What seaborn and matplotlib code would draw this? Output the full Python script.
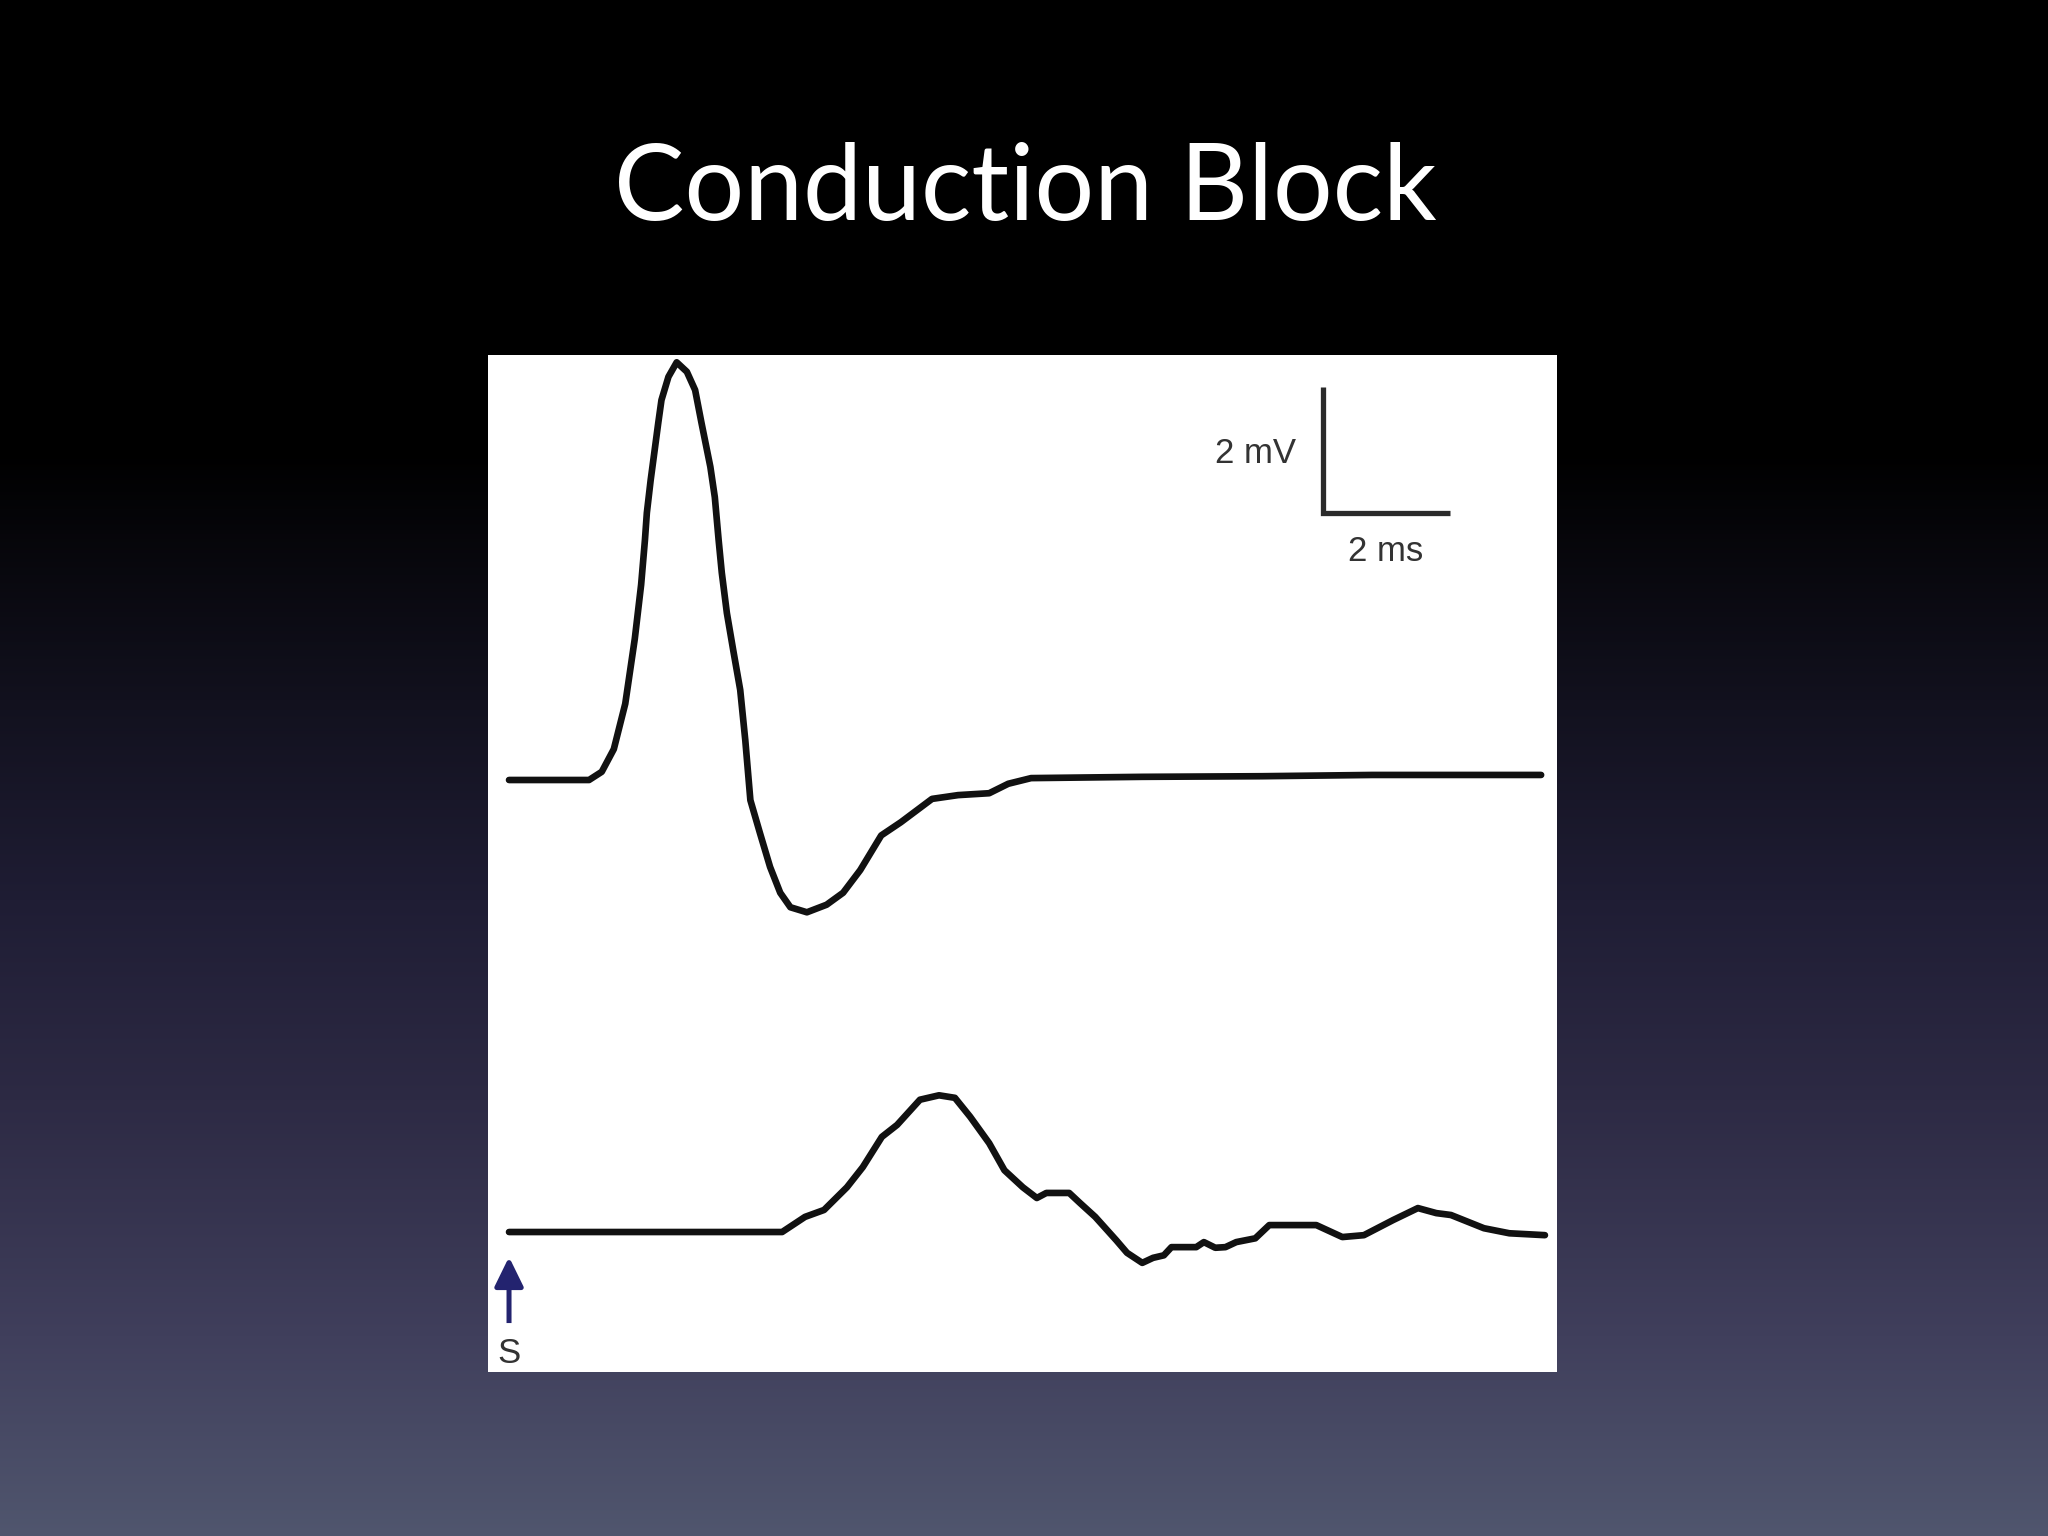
import numpy as np
import pandas as pd
import matplotlib
matplotlib.use("Agg")
import matplotlib.pyplot as plt
import seaborn as sns

# ---------------- data (time in ms from stimulus, amplitude in mV) ----------------
top_t = [0.0, 1.26, 1.46, 1.65, 1.83, 1.98, 2.08, 2.14, 2.17, 2.23, 2.30, 2.35,
         2.40, 2.51, 2.64, 2.80, 2.93, 3.03, 3.17, 3.24, 3.30, 3.35, 3.43, 3.53,
         3.64, 3.72, 3.80, 3.95, 4.11, 4.27, 4.43, 4.69, 5.00, 5.26, 5.53, 5.86,
         6.17, 6.66, 7.07, 7.56, 7.86, 8.22, 9.97, 11.86, 13.59, 16.25]
top_v = [0.0, 0.0, 0.13, 0.49, 1.21, 2.24, 3.10, 3.81, 4.24, 4.76, 5.29, 5.67,
         6.03, 6.40, 6.63, 6.48, 6.19, 5.67, 4.97, 4.49, 3.81, 3.29, 2.65, 2.06,
         1.43, 0.63, -0.32, -0.84, -1.38, -1.79, -2.02, -2.10, -1.98, -1.79,
         -1.43, -0.88, -0.67, -0.30, -0.24, -0.21, -0.06, 0.03, 0.05, 0.06,
         0.08, 0.08]

bottom_t = [0.0, 4.30, 4.66, 4.96, 5.32, 5.57, 5.87, 6.11, 6.47, 6.77, 7.02,
            7.26, 7.56, 7.80, 8.09, 8.31, 8.46, 8.82, 8.99, 9.23, 9.56, 9.73,
            9.97, 10.14, 10.31, 10.43, 10.82, 10.94, 11.12, 11.28, 11.45, 11.75,
            11.97, 12.71, 13.12, 13.46, 13.92, 14.31, 14.60, 14.83, 15.35,
            15.75, 16.31]
bottom_v = [0.0, 0.0, 0.24, 0.35, 0.71, 1.03, 1.51, 1.70, 2.10, 2.17, 2.13,
            1.83, 1.41, 0.98, 0.71, 0.54, 0.62, 0.62, 0.46, 0.24, -0.13, -0.33,
            -0.49, -0.41, -0.37, -0.24, -0.24, -0.16, -0.25, -0.24, -0.16, -0.10,
            0.11, 0.11, -0.08, -0.05, 0.19, 0.38, 0.30, 0.27, 0.06, -0.02, -0.05]

scale_ms = 2.0
scale_mv = 2.0
scale_labels = ["2 mV", "2 ms"]
title = "Conduction Block"
stim_label = "S"

# ---------------- layout / styling ----------------
W, H, DPI = 2048, 1536, 100
bottom_offset = -7.175         # vertical placement of the lower trace
trace_color = "#111111"
arrow_color = "#23236f"

sns.set_theme(style="white")
plt.rcParams["font.family"] = ["Lato", "DejaVu Sans"]

fig = plt.figure(figsize=(W / DPI, H / DPI), dpi=DPI)

# background gradient
bg = fig.add_axes([0, 0, 1, 1])
rows = np.arange(H)
stops_y = [0, 450, 700, 900, 1100, 1336, 1536]
stops_r = [0, 0, 18, 31, 45, 64, 80]
stops_g = [0, 0, 17, 29, 42, 63, 86]
stops_b = [0, 0, 30, 52, 68, 92, 110]
grad = np.stack([np.interp(rows, stops_y, stops_r),
                 np.interp(rows, stops_y, stops_g),
                 np.interp(rows, stops_y, stops_b)], axis=-1) / 255.0
grad = np.repeat(grad[:, None, :], 4, axis=1)
bg.imshow(grad, aspect="auto", extent=[0, 1, 0, 1], origin="upper")
bg.set_axis_off()

fig.text(1025 / W, 1 - 220 / H, title, color="white", fontsize=76,
         ha="center", va="baseline", family=["Lato", "DejaVu Sans"])

# white panel
ax = fig.add_axes([488 / W, 1 - 1372 / H, 1069 / W, 1017 / H])
ax.set_facecolor("white")

df_top = pd.DataFrame({"t": top_t, "v": top_v})
df_bot = pd.DataFrame({"t": bottom_t, "v": np.array(bottom_v) + bottom_offset})
for d in (df_top, df_bot):
    ln = sns.lineplot(data=d, x="t", y="v", ax=ax, color=trace_color, lw=4.8,
                      estimator=None, sort=False)
for line in ax.get_lines():
    line.set_solid_joinstyle("round")
    line.set_solid_capstyle("round")

ax.set_xlim(-0.331, 16.50)
ax.set_ylim(-9.397, 6.746)
ax.set_xticks([])
ax.set_yticks([])
ax.set_xlabel("")
ax.set_ylabel("")
for s in ax.spines.values():
    s.set_visible(False)

# scale bar
sb_x, sb_y = 12.82, 4.24
ax.plot([sb_x, sb_x, sb_x + scale_ms], [sb_y + scale_mv, sb_y, sb_y],
        color="#2a2a2a", lw=3.8, solid_joinstyle="miter", solid_capstyle="butt")
narrow = ["Liberation Sans Narrow", "Liberation Sans", "DejaVu Sans"]
ax.text(11.75, 5.19, scale_labels[0], ha="center", va="center", fontsize=25,
        color="#333333", family=narrow)
ax.text(13.80, 3.62, scale_labels[1], ha="center", va="center", fontsize=25,
        color="#333333", family=narrow)

# stimulus arrow
ax.annotate("", xy=(0.0, -7.57), xytext=(0.0, -8.62),
            arrowprops=dict(arrowstyle="-|>,head_length=0.45,head_width=0.22",
                            color=arrow_color, lw=3.6, mutation_scale=40,
                            shrinkA=0, shrinkB=0, capstyle="butt"))
ax.text(0.0, -9.10, stim_label, ha="center", va="center", fontsize=25,
        color="#333333", family=narrow)

fig.savefig("out.png", dpi=DPI)
